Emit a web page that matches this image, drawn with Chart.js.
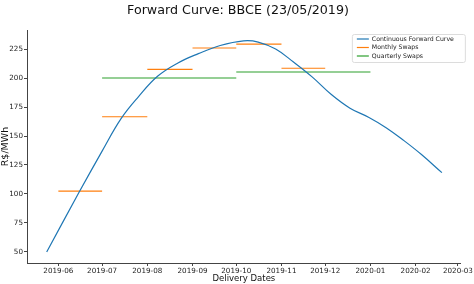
<!DOCTYPE html>
<html>
<head>
<meta charset="utf-8">
<script src="https://cdn.jsdelivr.net/npm/chart.js@4.4.0/dist/chart.umd.min.js"></script>
<style>
html, body { margin: 0; padding: 0; background: #fff; }
</style>
</head>
<body>
<canvas id="fwdChart" width="474" height="284"></canvas>
<script>
// Curva forward contínua (R$/MWh)
const curveDates = ['2019-05-24', '2019-06-15', '2019-07-01', '2019-07-14', '2019-07-26', '2019-08-08',
    '2019-08-22', '2019-09-05', '2019-09-20', '2019-10-06', '2019-10-16', '2019-10-28', '2019-11-09',
    '2019-11-22', '2019-12-05', '2019-12-18', '2019-12-31', '2020-01-12', '2020-01-24', '2020-02-05',
    '2020-02-19'];
const curveValues = [50, 101, 137, 165, 184, 201.5,
    213, 221, 228, 232, 231, 225, 214,
    201, 186, 174, 166, 157, 146, 134,
    118.4];

// Swaps mensais
const monthlyStarts = ['2019-06-01', '2019-07-01', '2019-08-01', '2019-09-01', '2019-10-01', '2019-11-01'];
const monthlyEnds = ['2019-07-01', '2019-08-01', '2019-09-01', '2019-10-01', '2019-11-01', '2019-12-01'];
const monthlyValues = [102.5, 166.6, 207.5, 225.9, 229.3, 208.4];

// Swaps trimestrais
const quarterlyStarts = ['2019-07-01', '2019-10-01'];
const quarterlyEnds = ['2019-10-01', '2020-01-01'];
const quarterlyValues = [200, 205.2];

// Eixos
const xTickMonths = ['2019-06', '2019-07', '2019-08', '2019-09', '2019-10', '2019-11', '2019-12', '2020-01', '2020-02', '2020-03'];
const yTickValues = [50, 75, 100, 125, 150, 175, 200, 225];

const day = 86400000;
const toMs = s => Date.parse(s.length === 7 ? s + '-01' : s);

function segments(starts, ends, values) {
    const pts = [];
    values.forEach((v, i) => {
        pts.push({ x: toMs(starts[i]), y: v });
        pts.push({ x: toMs(ends[i]), y: v });
        pts.push({ x: toMs(ends[i]), y: null });
    });
    return pts;
}

const font = "'DejaVu Sans', sans-serif";

// Título centrado sobre os eixos
const plotTitle = {
    id: 'plotTitle',
    afterDraw(chart) {
        const ctx = chart.ctx;
        ctx.save();
        ctx.font = '12.7px ' + font;
        ctx.fillStyle = '#111';
        ctx.textAlign = 'center';
        ctx.textBaseline = 'middle';
        ctx.fillText('Forward Curve: BBCE (23/05/2019)', 238, 11);
        ctx.restore();
    }
};

// Legenda com caixa, estilo matplotlib
const boxLegend = {
    id: 'boxLegend',
    afterDraw(chart) {
        const ctx = chart.ctx;
        const area = chart.chartArea;
        const w = 113, h = 28;
        const x0 = area.right + 4 - w, y0 = area.top + 4;
        ctx.save();
        ctx.fillStyle = 'rgba(255,255,255,0.8)';
        ctx.strokeStyle = '#dcdcdc';
        ctx.lineWidth = 1;
        ctx.beginPath();
        ctx.roundRect(x0 + 0.5, y0 + 0.5, w, h, 2);
        ctx.fill();
        ctx.stroke();
        ctx.font = '6.2px ' + font;
        ctx.textBaseline = 'middle';
        chart.data.datasets.forEach((ds, i) => {
            const y = y0 + 5 + i * 8.5;
            ctx.strokeStyle = ds.borderColor;
            ctx.lineWidth = 1.2;
            ctx.beginPath();
            ctx.moveTo(x0 + 5, y);
            ctx.lineTo(x0 + 17, y);
            ctx.stroke();
            ctx.fillStyle = '#222';
            ctx.fillText(ds.label, x0 + 20, y);
        });
        ctx.restore();
    }
};

new Chart(document.getElementById('fwdChart'), {
    type: 'line',
    data: {
        datasets: [
            {
                label: 'Continuous Forward Curve',
                data: curveDates.map((d, i) => ({ x: toMs(d), y: curveValues[i] })),
                borderColor: '#1f77b4',
                borderWidth: 1.2,
                pointRadius: 0,
                tension: 0.4
            },
            {
                label: 'Monthly Swaps',
                data: segments(monthlyStarts, monthlyEnds, monthlyValues),
                borderColor: '#ff7f0e',
                borderWidth: 1.2,
                pointRadius: 0,
                spanGaps: false
            },
            {
                label: 'Quarterly Swaps',
                data: segments(quarterlyStarts, quarterlyEnds, quarterlyValues),
                borderColor: '#2ca02c',
                borderWidth: 1.2,
                pointRadius: 0,
                spanGaps: false
            }
        ]
    },
    options: {
        responsive: false,
        animation: false,
        devicePixelRatio: 1,
        layout: { padding: { left: 0, right: 8, top: 30, bottom: 0 } },
        plugins: {
            legend: { display: false },
            tooltip: { enabled: false },
            title: { display: false }
        },
        scales: {
            x: {
                type: 'linear',
                min: toMs('2019-05-10') + day / 2,
                max: toMs('2020-03-03'),
                afterBuildTicks: axis => { axis.ticks = xTickMonths.map(m => ({ value: toMs(m) })); },
                afterFit: axis => { axis.height = 21; },
                ticks: {
                    autoSkip: false,
                    maxRotation: 0,
                    padding: 1,
                    color: '#222',
                    font: { family: font, size: 7.2 },
                    callback: v => {
                        const d = new Date(v);
                        return d.getUTCFullYear() + '-' + String(d.getUTCMonth() + 1).padStart(2, '0');
                    }
                },
                grid: { drawOnChartArea: false, drawTicks: true, tickLength: 3, color: '#444' },
                border: { display: true, color: '#444', width: 1 },
                title: {
                    display: true,
                    text: 'Delivery Dates',
                    color: '#111',
                    font: { family: font, size: 8.5 },
                    padding: { top: 0, bottom: 0 }
                }
            },
            y: {
                min: 40.5,
                max: 241.4,
                afterBuildTicks: axis => { axis.ticks = yTickValues.map(v => ({ value: v })); },
                afterFit: axis => { axis.width = 27; },
                ticks: {
                    padding: 1,
                    color: '#222',
                    font: { family: font, size: 7.2 }
                },
                grid: { drawOnChartArea: false, drawTicks: true, tickLength: 3, color: '#444' },
                border: { display: true, color: '#444', width: 1 },
                title: {
                    display: true,
                    text: 'R$/MWh',
                    color: '#111',
                    font: { family: font, size: 9.5 },
                    padding: { top: 0, bottom: 0 }
                }
            }
        }
    },
    plugins: [plotTitle, boxLegend]
});
</script>
</body>
</html>
